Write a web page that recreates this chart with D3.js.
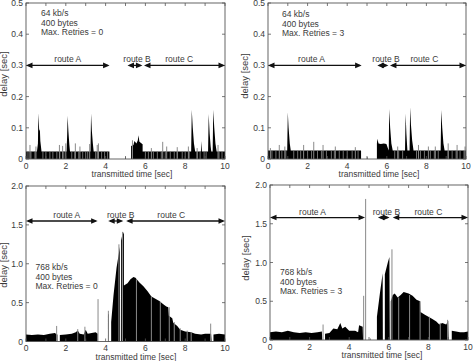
<!DOCTYPE html>
<html>
<head>
<meta charset="utf-8">
<script src="https://cdn.jsdelivr.net/npm/d3@7"></script>
<style>
  body { margin: 0; background: #fff; }
  text { font-family: "Liberation Sans", Arial, sans-serif; fill: #3a3a3a; }
</style>
</head>
<body>
<div id="chart"></div>
<script>
// delay [sec] vs transmitted time [sec]
const tlDelay = [
  [0,0.024],[0.55,0.024],[0.6,0.05],[0.62,0.147],[0.66,0.095],[0.7,0.09],[0.72,0.058],[0.78,0.024],
  [2.04,0.024],[2.07,0.08],[2.09,0.139],[2.13,0.09],[2.18,0.045],[2.21,0.024],
  [3.24,0.024],[3.27,0.146],[3.31,0.09],[3.36,0.05],[3.4,0.024],
  [4.19,0.024],[4.19,0],[5.28,0],[5.28,0.042],[5.4,0.045],[5.45,0.058],[5.55,0.05],[5.62,0.06],
  [5.65,0.076],[5.7,0.055],[5.86,0.047],[5.86,0.024],
  [8.3,0.024],[8.33,0.158],[8.38,0.1],[8.44,0.05],[8.5,0.024],
  [8.79,0.024],[8.81,0.058],[8.84,0.024],
  [9.15,0.024],[9.18,0.144],[9.23,0.08],[9.28,0.04],[9.31,0.024],
  [9.38,0.024],[9.41,0.158],[9.46,0.1],[9.52,0.05],[9.58,0.024],
  [10,0.024]
];
const tlSpikes = [[0.2,0.045],[0.5,0.04],[1.68,0.045],[1.84,0.042],[2.0,0.05],[2.48,0.05],[2.71,0.04],
  [3.2,0.048],[3.58,0.045],[3.64,0.05],[5.0,0.006],[5.35,0.06],[6.3,0.035],[6.87,0.055],[7.07,0.04],
  [7.6,0.038],[8.16,0.04],[8.6,0.035],[9.65,0.045]];
const tlGaps = [0.1,0.25,0.45,0.85,1.0,1.2,1.35,1.55,1.7,1.9,2.3,2.45,2.65,2.85,3.0,3.1,3.5,3.8,3.95,4.1,
  6.0,6.15,6.4,6.6,6.8,7.0,7.25,7.45,7.6,7.85,8.0,8.2,8.6,8.75,8.95,9.05,9.7,9.85];
const tlRoutes = [["route A",0,4.2,2.1],["route B",5.1,5.85,5.58],["route C",5.93,10,7.7]];
const tlNotes = ["64 kb/s","400 bytes","Max. Retries = 0"];

const trDelay = [
  [0,0.027],[0.97,0.027],[1.0,0.15],[1.04,0.1],[1.1,0.05],[1.15,0.027],
  [4.7,0.027],[4.7,0],[5.5,0],[5.5,0.05],[5.53,0.065],[5.58,0.05],[5.7,0.048],[5.85,0.05],[5.98,0.048],
  [6.05,0.035],[6.1,0.027],[6.12,0.16],[6.17,0.1],[6.23,0.05],[6.3,0.027],
  [6.92,0.027],[6.95,0.146],[6.99,0.08],[7.04,0.027],
  [7.15,0.027],[7.18,0.166],[7.22,0.11],[7.28,0.06],[7.35,0.027],
  [8.72,0.027],[8.75,0.157],[8.8,0.1],[8.86,0.05],[8.92,0.027],
  [10,0.027]
];
const trSpikes = [[0.12,0.035],[0.57,0.045],[0.85,0.04],[1.8,0.045],[2.31,0.055],[2.78,0.045],[3.4,0.04],
  [4.41,0.038],[5.02,0.006],[6.55,0.04],[7.6,0.045],[8.1,0.04],[8.45,0.04],[9.1,0.05],[9.55,0.045],[9.95,0.04]];
const trGaps = [0.2,0.4,0.7,0.9,1.3,1.5,1.65,2.0,2.2,2.5,2.7,2.95,3.2,3.35,3.6,3.8,4.0,4.25,4.55,
  6.4,6.6,6.8,7.5,7.7,7.9,8.2,8.4,8.6,9.1,9.3,9.5,9.7,9.9];
const trRoutes = [["route A",0,4.73,2.2],["route B",5.52,6.08,5.96],["route C",6.16,10,7.9]];
const trNotes = ["64 kb/s","400 bytes","Max. Retries = 3"];

const blDelay = [
  [0,0.09],[0.3,0.085],[0.6,0.09],[0.9,0.085],[1.2,0.1],[1.45,0.11],[1.55,0.09],[1.58,0.09],[1.58,0],
  [1.7,0],[1.7,0.085],[2.0,0.09],[2.3,0.1],[2.5,0.12],[2.6,0.14],[2.7,0.1],[2.9,0.09],[3.0,0.15],
  [3.1,0.1],[3.3,0.11],[3.5,0.12],[3.6,0.1],[3.6,0],
  [4.12,0],[4.12,0.35],[4.17,0.35],[4.17,0],[4.28,0],[4.28,0.25],[4.4,0.6],[4.55,0.95],[4.72,1.22],
  [4.73,0],[4.78,0],[4.78,1.3],[4.87,1.41],[4.92,1.38],[4.92,0.72],
  [5.1,0.75],[5.25,0.8],[5.4,0.83],[5.5,0.82],[5.7,0.76],[5.9,0.71],[6.1,0.65],[6.3,0.58],[6.5,0.55],
  [6.7,0.52],[6.9,0.48],[7.05,0.45],[7.15,0.44],[7.18,0.33],[7.35,0.3],[7.4,0.24],[7.6,0.2],[7.75,0.15],
  [8.0,0.13],[8.3,0.12],[8.5,0.1],[8.8,0.09],[9.0,0.1],[9.3,0.1],[9.33,0],[9.42,0],[9.42,0.09],
  [9.7,0.1],[10,0.09]
];
const blSpikes = [[1.54,0.2],[2.6,0.16],[2.96,0.19],[3.62,0.545],[4.14,0.395],[4.67,1.25],[4.85,1.41],
  [5.55,0.8],[6.3,0.58],[6.75,0.51],[7.2,0.44],[7.45,0.25],[7.75,0.17],[8.1,0.14],[8.3,0.12],[9.28,0.23]];
const blRoutes = [["route A",0,3.6,2.05],["route B",4.13,4.89,4.76],["route C",5.03,10,7.3]];
const blNotes = ["768 kb/s","400 bytes","Max. Retries = 0"];

const brDelay = [
  [0,0.1],[0.3,0.11],[0.6,0.1],[0.9,0.12],[1.2,0.1],[1.5,0.09],[1.8,0.1],[2.1,0.09],[2.4,0.1],
  [2.62,0.11],[2.64,0],[2.78,0],[2.78,0.08],[3.0,0.09],[3.2,0.15],[3.4,0.14],[3.55,0.22],[3.65,0.15],
  [3.8,0.17],[4.0,0.12],[4.3,0.12],[4.45,0.1],[4.5,0.19],[4.68,0.17],[4.7,0],
  [5.4,0],[5.4,0.3],[5.55,0.6],[5.69,0.86],[5.7,0],[5.8,0],[5.8,0.85],[5.95,1.0],[6.03,1.07],[6.05,0],
  [6.1,0],[6.1,0.5],[6.2,0.58],[6.3,0.6],[6.45,0.55],[6.6,0.58],[6.75,0.62],[7.0,0.6],[7.2,0.57],
  [7.4,0.52],[7.58,0.5],[7.6,0.36],[7.8,0.33],[8.0,0.3],[8.2,0.27],[8.4,0.24],[8.55,0.2],[8.7,0.22],
  [8.9,0.2],[9.0,0.25],[9.02,0],[9.18,0],[9.18,0.12],[9.4,0.11],[9.6,0.1],[9.8,0.1],[10,0.11]
];
const brSpikes = [[2.68,0.2],[4.73,0.57],[4.83,1.82],[5.07,0.02],[6.16,1.17],[6.5,0.55],[7.05,0.58],
  [7.58,0.5],[8.05,0.3],[8.6,0.22],[8.97,0.26]];
const brRoutes = [["route A",0,4.8,2.15],["route B",5.45,6.04,5.88],["route C",6.2,10,8.0]];
const brNotes = ["768 kb/s","400 bytes","Max. Retries = 3"];

const xTicks = [0,1,2,3,4,5,6,7,8,9,10];
const xLabels = [0,2,4,6,8,10];
const topYTicks = [0,0.1,0.2,0.3,0.4,0.5];
const botYTicks = [0,0.5,1.0,1.5,2.0];

const W = 474, H = 361;
const svg = d3.select('#chart').append('svg')
  .attr('width', W).attr('height', H)
  .style('background', '#fff');

// panel layout (px)
const panels = [
  { box: [26, 225, 3, 159],   yMax: 0.5, yTicks: topYTicks,
    delay: tlDelay, spikes: tlSpikes, gaps: tlGaps, base: 0.024, routes: tlRoutes, routeY: 0.3,
    notes: tlNotes, noteAt: [41, 16], titleX: 132, ylabX: 4, ylabY: 74 },
  { box: [268, 466, 3, 159],  yMax: 0.5, yTicks: topYTicks,
    delay: trDelay, spikes: trSpikes, gaps: trGaps, base: 0.027, routes: trRoutes, routeY: 0.3,
    notes: trNotes, noteAt: [282, 17], titleX: 379, ylabX: 245, ylabY: 76 },
  { box: [26, 225, 186, 341.5], yMax: 2, yTicks: botYTicks,
    delay: blDelay, spikes: blSpikes, gaps: [], base: 0, routes: blRoutes, routeY: 1.55,
    notes: blNotes, noteAt: [35.5, 270], titleX: 136, ylabX: 4, ylabY: 265 },
  { box: [270, 468, 185, 340], yMax: 2, yTicks: botYTicks,
    delay: brDelay, spikes: brSpikes, gaps: [], base: 0, routes: brRoutes, routeY: 1.58,
    notes: brNotes, noteAt: [280, 275], titleX: 382, ylabX: 246, ylabY: 258 }
];

const fmt = d3.format('.1f');

panels.forEach(p => {
  const [x0, x1, y0, y1] = p.box;
  const x = d3.scaleLinear().domain([0, 10]).range([x0, x1]);
  const y = d3.scaleLinear().domain([0, p.yMax]).range([y1, y0]);
  const g = svg.append('g');

  // data
  g.append('path')
    .datum(p.delay)
    .attr('fill', '#000')
    .attr('d', d3.area().x(d => x(d[0])).y0(y(0)).y1(d => y(d[1])));

  g.selectAll('line.gap').data(p.gaps).join('line')
    .attr('x1', d => x(d)).attr('x2', d => x(d))
    .attr('y1', y(0)).attr('y2', y(p.base))
    .attr('stroke', '#8c8c8c').attr('stroke-width', 0.8);

  g.selectAll('line.spike').data(p.spikes).join('line')
    .attr('x1', d => x(d[0])).attr('x2', d => x(d[0]))
    .attr('y1', y(0)).attr('y2', d => y(d[1]))
    .attr('stroke', '#8a8a8a').attr('stroke-width', 1);

  // frame + inward ticks on all sides
  g.append('rect')
    .attr('x', x0).attr('y', y0).attr('width', x1 - x0).attr('height', y1 - y0)
    .attr('fill', 'none').attr('stroke', '#555').attr('stroke-width', 0.9);

  xTicks.forEach(t => {
    g.append('line').attr('x1', x(t)).attr('x2', x(t)).attr('y1', y0).attr('y2', y0 + 3)
      .attr('stroke', '#555').attr('stroke-width', 0.8);
    g.append('line').attr('x1', x(t)).attr('x2', x(t)).attr('y1', y1).attr('y2', y1 - 3)
      .attr('stroke', '#555').attr('stroke-width', 0.8);
  });
  p.yTicks.forEach(t => {
    g.append('line').attr('x1', x0).attr('x2', x0 + 3).attr('y1', y(t)).attr('y2', y(t))
      .attr('stroke', '#555').attr('stroke-width', 0.8);
    g.append('line').attr('x1', x1).attr('x2', x1 - 3).attr('y1', y(t)).attr('y2', y(t))
      .attr('stroke', '#555').attr('stroke-width', 0.8);
  });

  // tick labels
  g.selectAll('text.xt').data(xLabels).join('text')
    .attr('x', d => x(d)).attr('y', y1 + 9.5)
    .attr('text-anchor', 'middle').attr('font-size', 8.5)
    .text(d => d);
  g.selectAll('text.yt').data(p.yTicks).join('text')
    .attr('x', x0 - 3).attr('y', d => y(d) + 3)
    .attr('text-anchor', 'end').attr('font-size', 8.5)
    .text(d => d === 0 ? '0' : fmt(d));

  // axis titles
  g.append('text')
    .attr('x', p.titleX).attr('y', y1 + 18)
    .attr('text-anchor', 'middle').attr('font-size', 8.5)
    .text('transmitted time [sec]');
  g.append('text')
    .attr('transform', `translate(${p.ylabX},${p.ylabY}) rotate(-90)`)
    .attr('text-anchor', 'middle').attr('dy', '0.35em').attr('font-size', 9.5)
    .text('delay [sec]');

  // route arrows
  const ry = y(p.routeY);
  p.routes.forEach(r => {
    const a = x(r[1]), b = x(r[2]);
    g.append('line').attr('x1', a + 2).attr('x2', b - 2).attr('y1', ry).attr('y2', ry)
      .attr('stroke', '#111').attr('stroke-width', 1.3);
    g.append('path').attr('fill', '#111')
      .attr('d', `M${a},${ry}L${a + 6.5},${ry - 2.8}L${a + 6.5},${ry + 2.8}Z`);
    g.append('path').attr('fill', '#111')
      .attr('d', `M${b},${ry}L${b - 6.5},${ry - 2.8}L${b - 6.5},${ry + 2.8}Z`);
    g.append('text')
      .attr('x', x(r[3])).attr('y', ry - 3)
      .attr('text-anchor', 'middle').attr('font-size', 8.5)
      .text(r[0]);
  });

  // settings note
  g.selectAll('text.note').data(p.notes).join('text')
    .attr('x', p.noteAt[0]).attr('y', (d, i) => p.noteAt[1] + i * 9.7)
    .attr('font-size', 8.5)
    .text(d => d);
});
</script>
</body>
</html>
